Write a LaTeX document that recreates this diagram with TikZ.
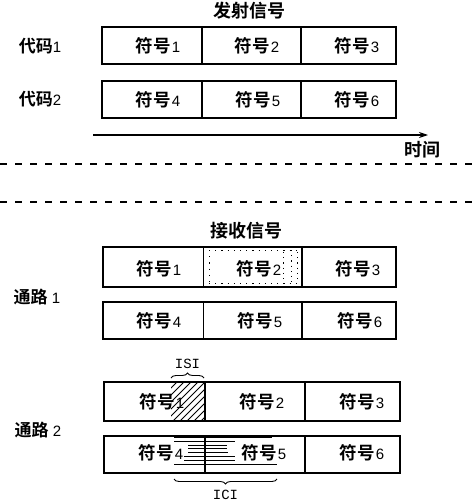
\documentclass[tikz,border=0pt]{standalone}
\usepackage{fontspec}
\newfontfamily\cjk{Noto Sans CJK SC Bold}
\newfontfamily\dig{Liberation Sans}
\newfontfamily\monof{Liberation Mono}
\usetikzlibrary{decorations.pathreplacing,arrows.meta}
\newcommand\fh[1]{{\cjk\fontsize{17.5}{17.5}\selectfont 符号}\kern1pt{\dig\fontsize{15}{15}\selectfont #1}}
\newcommand\lb[2]{{\cjk\fontsize{17}{17}\selectfont #1}{\dig\fontsize{15}{15}\selectfont #2}}
\begin{document}
\begin{tikzpicture}[x=1pt,y=-1pt,
  cell/.style={draw, line width=1.1pt, inner sep=0pt, anchor=center},
  sym/.style={inner sep=0pt, anchor=center},
  ttl/.style={inner sep=0pt, font=\cjk\fontsize{18}{18}\selectfont},
  sep/.style={line width=1.1pt, dash pattern=on 7pt off 8pt},
  brc/.style={decorate, decoration={brace, amplitude=5pt}, line width=0.9pt},
  mono/.style={inner sep=0pt, font=\monof\fontsize{14}{14}\selectfont}]
\path[use as bounding box] (0,0) rectangle (474,503);

% ---------- transmitted ----------
\node[ttl] (ttx) at (249,11) {发射信号};
\node[cell, minimum width=100pt, minimum height=37pt] (a1) at (152,45.5) {};
\node[cell, minimum width=99pt, minimum height=37pt] (a2) at (251.5,45.5) {};
\node[cell, minimum width=95pt, minimum height=37pt] (a3) at (348.5,45.5) {};
\node[cell, minimum width=100pt, minimum height=37pt] (b1) at (152,99.5) {};
\node[cell, minimum width=99pt, minimum height=37pt] (b2) at (251.5,99.5) {};
\node[cell, minimum width=95pt, minimum height=37pt] (b3) at (348.5,99.5) {};
\node[sym] (a1t) at (158,46) {\fh{1}};
\node[sym] (a2t) at (257,46) {\fh{2}};
\node[sym] (a3t) at (357,46) {\fh{3}};
\node[sym] (b1t) at (158,100) {\fh{4}};
\node[sym] (b2t) at (258,100) {\fh{5}};
\node[sym] (b3t) at (357,100) {\fh{6}};
\node[sym] (c1) at (40,46) {\lb{代码}{1}};
\node[sym] (c2) at (40,99) {\lb{代码}{2}};
\coordinate (ts) at (93,135);
\coordinate (te) at (428,135);
\draw[line width=1.1pt, -{Stealth[length=9pt,width=6pt]}] (ts) -- (te);
\node[ttl] (time) at (422,150) {时间};

% ---------- separators ----------
\coordinate (s1a) at (0,164); \coordinate (s1b) at (474,164);
\coordinate (s2a) at (0,202); \coordinate (s2b) at (474,202);
\draw[sep] (s1a) -- (s1b);
\draw[sep] (s2a) -- (s2b);

% ---------- received ----------
\node[ttl] (trx) at (246,231) {接收信号};
% path 1
\node[cell, minimum width=100.5pt, minimum height=40pt] (p1) at (153.25,267) {};
\node[cell, minimum width=98.5pt, minimum height=40pt] (p2) at (252.75,267) {};
\node[cell, minimum width=94pt, minimum height=40pt] (p3) at (349,267) {};
\node[cell, minimum width=100.5pt, minimum height=37pt] (q1) at (153.25,320.5) {};
\node[cell, minimum width=98.5pt, minimum height=37pt] (q2) at (252.75,320.5) {};
\node[cell, minimum width=94pt, minimum height=37pt] (q3) at (349,320.5) {};
% dotted area
\draw[line width=1pt, dash pattern=on 1.2pt off 5pt] (209,250) -- (297,250);
\draw[line width=1pt, dash pattern=on 1.2pt off 5pt] (209,283) -- (297,283);
\draw[line width=1pt, dash pattern=on 1.2pt off 5pt] (209,250) -- (209,283);
\draw[line width=1pt, dash pattern=on 1.2pt off 4pt] (283,252) -- (283,283);
\draw[line width=1pt, dash pattern=on 1.2pt off 4pt] (291,250) -- (291,283);
\draw[line width=1pt, dash pattern=on 1.2pt off 4pt] (297,252) -- (297,283);
\node[sym] (p1t) at (159,269) {\fh{1}};
\node[sym] (p2t) at (259,269) {\fh{2}};
\node[sym] (p3t) at (358,269) {\fh{3}};
\node[sym] (q1t) at (159,321) {\fh{4}};
\node[sym] (q2t) at (260,321) {\fh{5}};
\node[sym] (q3t) at (360,321) {\fh{6}};
\node[sym] (l1) at (37,297) {\lb{通路}{\ 1}};
% path 2
\node[cell, minimum width=101pt, minimum height=39pt] (r1) at (154.5,401.5) {};
\node[cell, minimum width=100pt, minimum height=39pt] (r2) at (255,401.5) {};
\node[cell, minimum width=95pt, minimum height=39pt] (r3) at (352.5,401.5) {};
\node[cell, minimum width=101pt, minimum height=37pt] (u1) at (154.5,454.5) {};
\node[cell, minimum width=100pt, minimum height=37pt] (u2) at (255,454.5) {};
\node[cell, minimum width=95pt, minimum height=37pt] (u3) at (352.5,454.5) {};
% hatch ISI
\begin{scope}
\clip (171,382) rectangle (205,421);
\foreach \i in {-42,-35,...,35}
  \draw[line width=0.8pt] (171+\i,423) -- ++(46,-46);
\end{scope}
% ICI lines
\foreach \yy/\xa/\xb in {437/174/272, 441/174/235, 445/188/227, 448.5/188/227, 452/188/228, 456/174/235, 460/174/235, 464/174/277}
  \draw[line width=0.9pt] (\xa,\yy) -- (\xb,\yy);
\node[sym] (r1t) at (162,402) {\fh{1}};
\node[sym] (r2t) at (262,402) {\fh{2}};
\node[sym] (r3t) at (362,402) {\fh{3}};
\node[sym, fill=white, inner xsep=0.5pt] (u1t) at (161,453) {\fh{4}};
\node[sym, fill=white, inner xsep=1pt] (u2t) at (264,453) {\fh{5}};
\node[sym] (u3t) at (362,453) {\fh{6}};
\node[sym] (l2) at (38,430) {\lb{通路}{\ 2}};
% braces
\coordinate (isa) at (171,378); \coordinate (isb) at (204,378);
\draw[brc] (isa) -- (isb);
\node[mono] (isi) at (187.5,364) {ISI};
\coordinate (ica) at (277,479); \coordinate (icb) at (174,479);
\draw[brc] (ica) -- (icb);
\node[mono] (ici) at (225.5,495) {ICI};
\end{tikzpicture}
\end{document}
